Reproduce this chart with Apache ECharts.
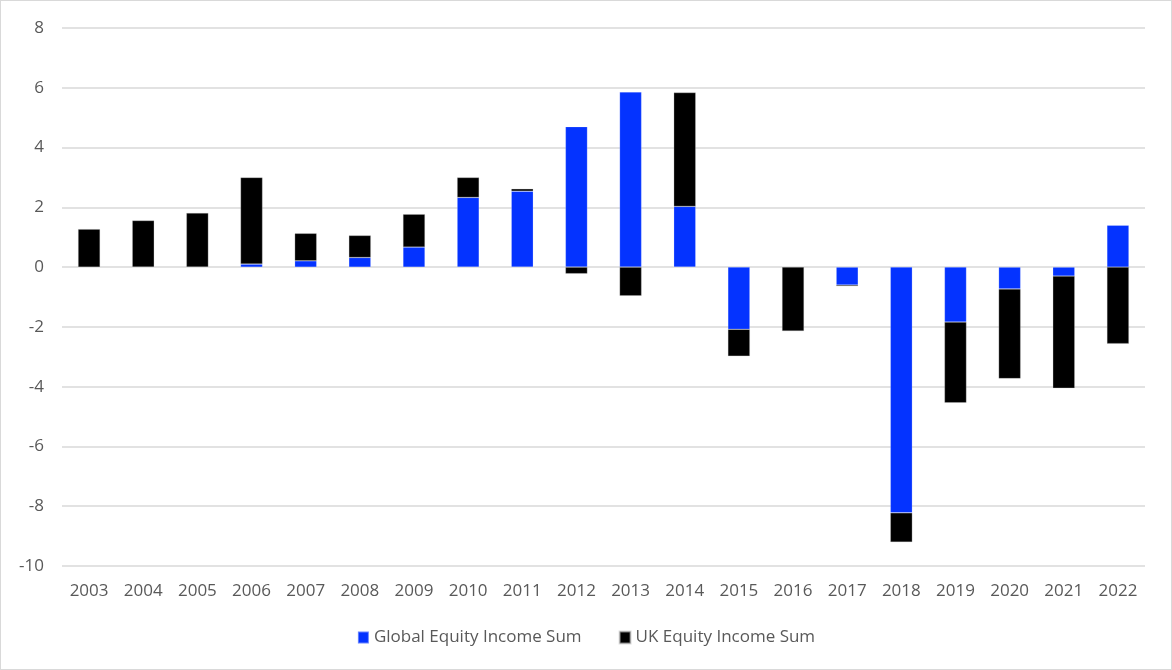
<!DOCTYPE html>
<html>
<head>
<meta charset="utf-8">
<script src="https://cdn.jsdelivr.net/npm/echarts@6/dist/echarts.min.js"></script>
<style>
html,body{margin:0;padding:0;background:#fff;}
#wrap{position:absolute;left:0;top:0;width:1170px;height:668px;border:1px solid #D9D9D9;}
#chart{width:1170px;height:668px;}
</style>
</head>
<body>
<div id="wrap"><div id="chart"></div></div>
<script>
const categories = ['2003','2004','2005','2006','2007','2008','2009','2010','2011','2012','2013','2014','2015','2016','2017','2018','2019','2020','2021','2022'];
const globalEquity = [0, 0, 0, 0.1, 0.21, 0.32, 0.67, 2.33, 2.54, 4.7, 5.86, 2.03, -2.08, 0, -0.6, -8.22, -1.84, -0.73, -0.3, 1.4];
const ukEquity = [1.27, 1.56, 1.81, 2.9, 0.92, 0.74, 1.1, 0.67, 0.08, -0.22, -0.96, 3.81, -0.9, -2.14, -0.04, -0.98, -2.7, -3.0, -3.75, -2.56];
const yTicks = {min: -10, max: 8, interval: 2};

const chart = echarts.init(document.getElementById('chart'));
const fontFamily = '"Open Sans", "Liberation Sans", sans-serif';
chart.setOption({
  animation: false,
  textStyle: {fontFamily: fontFamily},
  grid: {left: 61, right: 26, top: 27, bottom: 103},
  legend: {
    top: 623,
    left: 'center',
    itemWidth: 11,
    itemHeight: 12,
    itemGap: 37,
    icon: 'rect',
    textStyle: {color: '#595959', fontSize: 17, fontFamily: fontFamily},
    data: ['Global Equity Income Sum', 'UK Equity Income Sum']
  },
  xAxis: {
    type: 'category',
    data: categories,
    axisLine: {show: false},
    axisTick: {show: false},
    axisLabel: {color: '#595959', fontSize: 17, margin: 17, fontFamily: fontFamily},
    position: 'bottom'
  },
  yAxis: {
    type: 'value',
    min: yTicks.min,
    max: yTicks.max,
    interval: yTicks.interval,
    axisLine: {show: false},
    axisTick: {show: false},
    axisLabel: {color: '#595959', fontSize: 17, margin: 18, fontFamily: fontFamily},
    splitLine: {lineStyle: {color: '#D9D9D9', width: 1.5}}
  },
  series: [
    {
      name: 'Global Equity Income Sum',
      type: 'bar',
      stack: 'total',
      barWidth: 22,
      itemStyle: {color: '#0433FF', borderColor: 'rgba(255,255,255,0.4)', borderWidth: 0.5},
      data: globalEquity
    },
    {
      name: 'UK Equity Income Sum',
      type: 'bar',
      stack: 'total',
      barWidth: 22,
      itemStyle: {color: '#000000', borderColor: 'rgba(200,200,200,0.6)', borderWidth: 0.5},
      data: ukEquity
    }
  ]
});
</script>
</body>
</html>
